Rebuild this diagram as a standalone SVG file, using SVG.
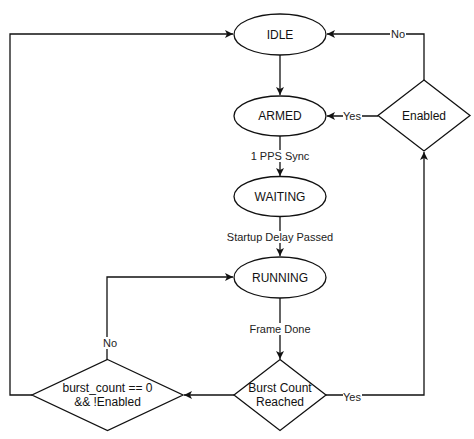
<svg xmlns="http://www.w3.org/2000/svg" width="474" height="439" viewBox="0 0 474 439">
<style>
.n{fill:#fff;stroke:#111;stroke-width:1.3}
.e{fill:none;stroke:#111;stroke-width:1.3;marker-end:url(#a)}
.t{font-family:"Liberation Sans",Arial,sans-serif;font-size:12px;fill:#111;text-anchor:middle;dominant-baseline:central}
.l{font-family:"Liberation Sans",Arial,sans-serif;font-size:11px;fill:#222;text-anchor:middle;dominant-baseline:central}
.bg{fill:#fff}
</style>
<defs>
<marker id="a" markerWidth="10" markerHeight="8" refX="8" refY="4" orient="auto" markerUnits="userSpaceOnUse">
<path d="M0,0 L8,4 L0,8 L2,4 Z" fill="#111"/>
</marker>
</defs>
<rect width="474" height="439" fill="#fff"/>
<g id="connectors">
<path class="e" d="M280,55 V95"/>
<path class="e" d="M280,136 V176"/>
<path class="e" d="M280,217 V256"/>
<path class="e" d="M280,298 V359"/>
<path class="e" d="M378,116 H327"/>
<path class="e" d="M424,80 V34 H327"/>
<path class="e" d="M326,395 H424 V152"/>
<path class="e" d="M234,395 H184"/>
<path class="e" d="M107,360 V277 H233"/>
<path class="e" d="M32,395 H10 V34 H233"/>
<rect class="bg" x="390" y="28" width="16" height="12"/>
<text class="l" x="398" y="34">No</text>
<rect class="bg" x="343" y="110" width="19" height="12"/>
<text class="l" x="352" y="116">Yes</text>
<rect class="bg" x="251" y="150" width="58" height="12"/>
<text class="l" x="280" y="156">1 PPS Sync</text>
<rect class="bg" x="227" y="231" width="106" height="12"/>
<text class="l" x="280" y="237">Startup Delay Passed</text>
<rect class="bg" x="250" y="323" width="60" height="12"/>
<text class="l" x="280" y="329">Frame Done</text>
<rect class="bg" x="102" y="337" width="16" height="12"/>
<text class="l" x="110" y="343">No</text>
<rect class="bg" x="343" y="391" width="19" height="12"/>
<text class="l" x="352" y="397">Yes</text>
</g>
<g id="idle"><ellipse class="n" cx="280" cy="34.5" rx="46" ry="20.5"/><text class="t" x="280" y="34.5">IDLE</text></g>
<g id="armed"><ellipse class="n" cx="280" cy="116" rx="46" ry="20"/><text class="t" x="280" y="116">ARMED</text></g>
<g id="waiting"><ellipse class="n" cx="280" cy="196.5" rx="46" ry="20"/><text class="t" x="280" y="196.5">WAITING</text></g>
<g id="running"><ellipse class="n" cx="280" cy="277.5" rx="46" ry="20.5"/><text class="t" x="280" y="277.5">RUNNING</text></g>
<g id="enabled"><path class="n" d="M424,80 L470,115.5 L424,151 L378,115.5 Z"/><text class="t" x="424" y="115.5">Enabled</text></g>
<g id="burst"><path class="n" d="M280,359.5 L326,395 L280,430.5 L234,395 Z"/><text class="t" x="280" y="388">Burst Count</text><text class="t" x="280" y="402">Reached</text></g>
<g id="check"><path class="n" d="M107.5,359.5 L183,395 L107.5,430.5 L32,395 Z"/><text class="t" x="107.5" y="388">burst_count == 0</text><text class="t" x="107.5" y="402">&amp;&amp; !Enabled</text></g>
</svg>
